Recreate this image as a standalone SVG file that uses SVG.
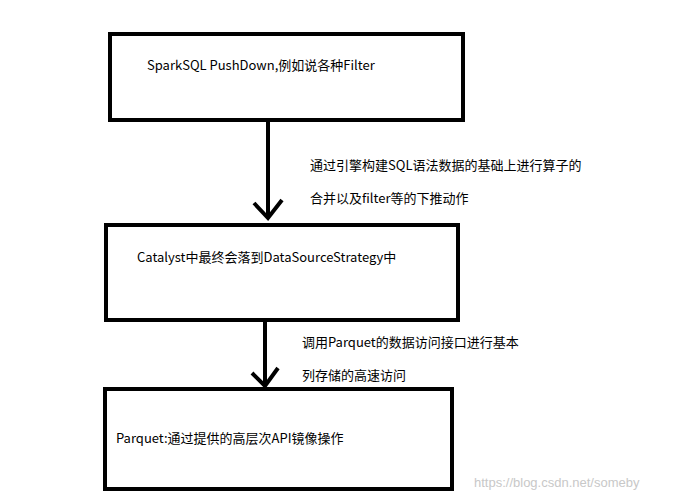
<svg xmlns="http://www.w3.org/2000/svg" width="685" height="502" viewBox="0 0 685 502">
<style>
.box{fill:#fff;stroke:#000;stroke-width:4}
.t{font-family:"Noto Sans CJK SC","Noto Sans",sans-serif;font-size:13px;fill:#000}
.c{fill:none;stroke:#000;stroke-width:4}
</style>
<rect width="685" height="502" fill="#fff"/>
<g id="n1"><rect class="box" x="110" y="34" width="353" height="86"/><text class="t" x="147" y="70">SparkSQL PushDown,例如说各种Filter</text></g>
<g id="n2"><rect class="box" x="106" y="225" width="352" height="95"/><text class="t" x="137" y="262">Catalyst中最终会落到DataSourceStrategy中</text></g>
<g id="n3"><rect class="box" x="105" y="389" width="347" height="100"/><text class="t" x="116" y="443">Parquet:通过提供的高层次API镜像操作</text></g>
<g id="connectors">
<path class="c" d="M268 120V218M254 203L268 218L282 200"/>
<path class="c" d="M265 320V386M252 373L265 386L278 368"/>
<text class="t" x="310" y="170">通过引擎构建SQL语法数据的基础上进行算子的</text>
<text class="t" x="310" y="203">合并以及filter等的下推动作</text>
<text class="t" x="302" y="347">调用Parquet的数据访问接口进行基本</text>
<text class="t" x="302" y="380">列存储的高速访问</text>
</g>
<text x="474" y="487" style="font-family:'Liberation Sans',sans-serif;font-size:13px;fill:#c8c8c8">https://blog.csdn.net/someby</text>
</svg>
